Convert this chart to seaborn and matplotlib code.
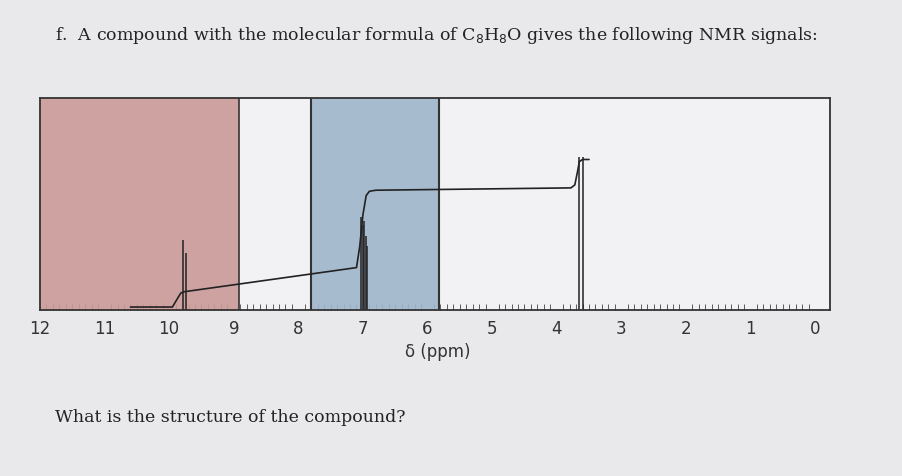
import matplotlib
matplotlib.use("Agg")
import matplotlib.pyplot as plt
import seaborn as sns
import numpy as np
import pandas as pd

# data
peak_ppm = [9.79, 9.74, 7.03, 7.0, 6.98, 6.95, 6.93, 3.66, 3.59]
peak_height = [0.33, 0.27, 0.44, 0.40, 0.42, 0.35, 0.30, 0.72, 0.72]
integral_ppm = [10.6, 9.95, 9.88, 9.82, 9.77, 7.1, 7.05, 7.0, 6.95, 6.9, 6.8, 3.78, 3.72, 3.68, 3.65, 3.6, 3.5]
integral_val = [0.014, 0.014, 0.05, 0.08, 0.086, 0.2, 0.3, 0.45, 0.54, 0.56, 0.565, 0.576, 0.59, 0.65, 0.7, 0.71, 0.71]
tick_vals = list(range(12, -1, -1))

sns.set_style("white")
plt.rcParams['font.family'] = ['DejaVu Sans']
W, H = 902, 476
fig = plt.figure(figsize=(W/100, H/100), dpi=100)
fig.patch.set_facecolor("#e9e9ec")

ax = fig.add_axes([40/W, (H-310)/H, 790/W, 212/H])
ax.set_facecolor("#f2f1f3")
ax.set_xlim(12 - 5/65, 12 - 795/65)
ax.set_ylim(0, 1)
ax.axvspan(12.2, 8.92, color="#c99a98", alpha=0.9, lw=0)
ax.axvspan(7.8, 5.83, color="#9fb5cc", alpha=0.9, lw=0)
ax.axvline(8.92, color="#333", lw=1.2)
ax.axvline(7.8, color="#333", lw=1.5)
ax.axvline(5.83, color="#333", lw=1.5)

ax.vlines(peak_ppm, 0, peak_height, color="#222", lw=1.1)
df = pd.DataFrame({"ppm": integral_ppm, "val": integral_val})
sns.lineplot(data=df, x="ppm", y="val", ax=ax, color="#222", lw=1.2, sort=False)
ax.set_xlabel(""); ax.set_ylabel("")
ax.set_yticks([])
ax.set_xticks(tick_vals)
ax.set_xticklabels([str(t) for t in tick_vals], fontsize=12, color="#333")
ax.set_xticks(np.arange(0, 12.01, 0.1), minor=True)
ax.tick_params(axis="x", which="major", direction="inout", length=10, width=1, color="#333", pad=2)
ax.tick_params(axis="x", which="minor", direction="in", length=4, width=0.6, color="#444", bottom=True)
for s in ax.spines.values():
    s.set_color("#333"); s.set_linewidth(1.3)

fig.text(438/W, 1-352/H, "δ (ppm)", fontsize=12, color="#333", ha="center", va="center")
fig.text(55/W, 1-35/H, "f.  A compound with the molecular formula of C$_8$H$_8$O gives the following NMR signals:",
         fontsize=12.5, family="DejaVu Serif", color="#222", va="center")
fig.text(55/W, 1-418/H, "What is the structure of the compound?", fontsize=12.5,
         family="DejaVu Serif", color="#222", va="center")
fig.savefig("out.png", dpi=100, facecolor=fig.get_facecolor())
